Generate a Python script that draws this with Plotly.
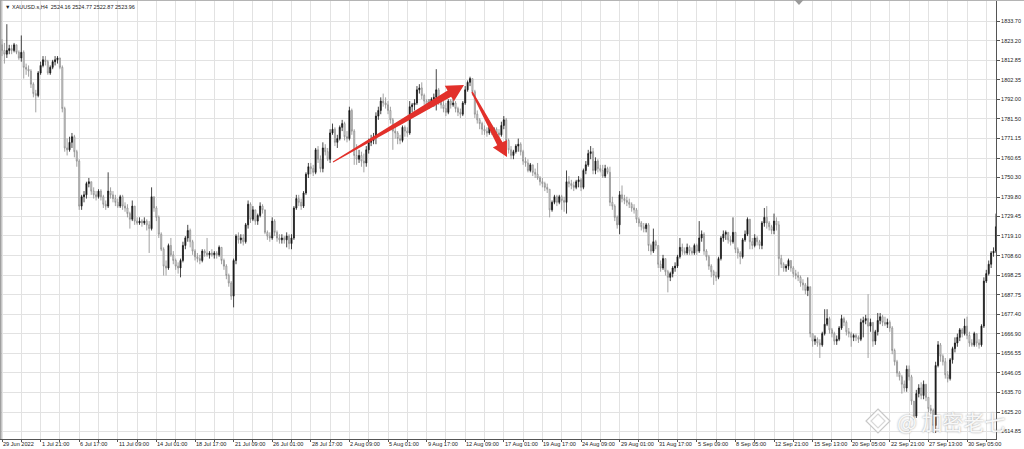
import plotly.graph_objects as go

# ---------------- data (XAUUSD H4) ----------------
open_ = [
    1821,1818,1816,1818,1819,1818,1821,1817,1814,1817,1809,1808,1807,1800,1795,1794,
    1806,1810,1813,1812,1806,1809,1812,1813,1814,1809,1787,1766,1765,1769,1772,1764,
    1759,1735,1740,1741,1747,1748,1743,1741,1740,1743,1740,1736,1735,1743,1741,1739,
    1737,1735,1740,1735,1734,1731,1728,1735,1727,1726,1727,1726,1727,1725,1723,1740,
    1734,1729,1720,1712,1703,1702,1714,1709,1706,1703,1702,1706,1714,1718,1722,1716,
    1711,1708,1707,1706,1711,1710,1709,1710,1709,1710,1709,1713,1706,1703,1698,1694,
    1687,1706,1719,1717,1718,1716,1725,1736,1728,1733,1727,1730,1735,1733,1721,1719,
    1718,1727,1721,1718,1717,1718,1717,1719,1715,1718,1734,1739,1737,1735,1742,1752,
    1756,1755,1753,1765,1760,1755,1766,1764,1760,1774,1776,1769,1771,1777,1779,1772,
    1771,1786,1775,1762,1760,1762,1759,1758,1765,1769,1770,1772,1783,1786,1791,1790,
    1789,1786,1781,1775,1774,1771,1770,1777,1775,1774,1788,1789,1790,1797,1798,1794,
    1791,1789,1790,1792,1793,1797,1792,1789,1787,1785,1791,1789,1790,1787,1785,1784,
    1790,1797,1801,1803,1796,1784,1781,1779,1776,1775,1774,1777,1775,1776,1774,1773,
    1778,1781,1770,1765,1762,1764,1767,1768,1764,1759,1758,1754,1757,1753,1752,1750,
    1748,1747,1745,1744,1733,1737,1740,1737,1740,1738,1737,1748,1747,1746,1745,1748,
    1749,1745,1754,1757,1763,1764,1754,1759,1755,1754,1751,1755,1753,1737,1735,1729,
    1725,1741,1739,1738,1737,1736,1734,1733,1728,1726,1724,1723,1725,1714,1711,1716,
    1714,1704,1702,1707,1700,1697,1699,1702,1703,1708,1713,1711,1710,1713,1711,1710,
    1714,1711,1718,1720,1711,1708,1703,1700,1698,1697,1707,1718,1720,1721,1717,1716,
    1721,1712,1710,1708,1717,1720,1728,1716,1714,1718,1716,1714,1726,1729,1726,1724,
    1722,1727,1725,1707,1704,1702,1703,1706,1702,1699,1698,1697,1694,1693,1690,1692,
    1667,1663,1664,1662,1661,1667,1672,1675,1669,1667,1663,1664,1670,1675,1673,1668,
    1667,1665,1666,1665,1664,1673,1674,1675,1671,1673,1663,1668,1674,1676,1673,1672,
    1673,1670,1658,1652,1646,1644,1640,1638,1648,1644,1631,1623,1635,1638,1634,1640,
    1633,1627,1626,1618,1650,1661,1655,1652,1645,1643,1653,1659,1662,1665,1669,1667,
    1671,1666,1662,1661,1667,1662,1661,1671,1695,1699,1704,1710,1711,
]
high = [
    1824,1822,1832,1821,1821,1822,1821,1818,1826,1818,1811,1810,1808,1801,1797,1807,
    1812,1815,1815,1813,1810,1813,1815,1815,1814,1810,1788,1771,1772,1774,1773,1765,
    1760,1741,1743,1748,1750,1748,1745,1743,1744,1744,1741,1738,1753,1745,1743,1741,
    1739,1741,1741,1737,1736,1732,1738,1735,1729,1729,1728,1729,1728,1727,1745,1740,
    1735,1730,1721,1713,1706,1715,1718,1711,1707,1705,1707,1716,1719,1725,1723,1717,
    1712,1710,1709,1712,1712,1718,1711,1712,1711,1711,1714,1713,1707,1704,1699,1695,
    1707,1720,1721,1720,1720,1726,1738,1737,1735,1733,1731,1737,1736,1733,1722,1721,
    1729,1728,1722,1720,1720,1719,1721,1720,1720,1735,1741,1741,1739,1743,1753,1758,
    1758,1757,1766,1767,1762,1769,1768,1766,1776,1779,1777,1773,1778,1781,1780,1775,
    1788,1787,1776,1768,1765,1764,1763,1767,1771,1773,1774,1785,1788,1793,1795,1793,
    1791,1788,1782,1779,1775,1773,1778,1778,1777,1791,1790,1792,1799,1800,1801,1795,
    1792,1792,1793,1795,1808,1798,1794,1791,1790,1792,1792,1792,1791,1788,1787,1791,
    1799,1802,1804,1803,1797,1786,1782,1780,1778,1777,1778,1778,1777,1777,1776,1780,
    1783,1782,1771,1767,1765,1768,1771,1769,1765,1761,1760,1758,1757,1755,1758,1751,
    1750,1748,1747,1744,1738,1741,1741,1741,1741,1740,1754,1751,1749,1748,1749,1751,
    1750,1755,1759,1765,1767,1766,1761,1760,1757,1757,1757,1756,1756,1740,1736,1730,
    1743,1746,1741,1740,1739,1737,1736,1734,1729,1727,1726,1726,1726,1715,1723,1717,
    1714,1706,1709,1707,1701,1700,1703,1705,1709,1718,1715,1713,1715,1714,1713,1715,
    1715,1727,1722,1721,1712,1709,1704,1701,1700,1708,1719,1722,1722,1721,1719,1729,
    1721,1713,1711,1718,1722,1729,1728,1718,1720,1719,1717,1727,1734,1735,1727,1725,
    1731,1729,1727,1709,1705,1704,1707,1706,1703,1701,1700,1698,1696,1694,1697,1692,
    1667,1666,1665,1664,1668,1680,1680,1676,1670,1668,1666,1671,1677,1676,1674,1670,
    1668,1667,1667,1666,1675,1676,1677,1688,1675,1673,1669,1678,1678,1677,1676,1675,
    1674,1671,1659,1653,1647,1645,1642,1650,1650,1645,1631,1637,1640,1641,1642,1640,
    1633,1629,1627,1652,1663,1662,1656,1654,1647,1654,1660,1665,1667,1670,1670,1675,
    1676,1668,1664,1668,1667,1664,1672,1697,1701,1706,1711,1713,1731,
]
low = [
    1815,1811,1814,1816,1816,1817,1816,1813,1812,1803,1805,1804,1798,1793,1785,1793,
    1805,1809,1810,1805,1805,1808,1810,1811,1808,1785,1764,1762,1764,1766,1761,1756,
    1733,1733,1737,1739,1745,1741,1739,1738,1739,1738,1734,1733,1734,1739,1737,1735,
    1734,1734,1733,1732,1729,1723,1727,1725,1725,1725,1724,1725,1722,1710,1722,1732,
    1727,1718,1711,1698,1698,1701,1708,1704,1701,1699,1697,1705,1712,1716,1713,1709,
    1706,1705,1704,1705,1708,1708,1707,1708,1707,1707,1708,1704,1701,1696,1692,1685,
    1681,1704,1715,1715,1714,1715,1723,1726,1727,1725,1725,1729,1731,1720,1717,1716,
    1717,1719,1716,1715,1715,1715,1713,1712,1712,1717,1733,1735,1733,1734,1741,1750,
    1752,1751,1752,1758,1753,1753,1762,1759,1758,1773,1767,1766,1770,1775,1770,1769,
    1770,1773,1757,1757,1758,1756,1753,1756,1763,1767,1768,1768,1781,1784,1788,1787,
    1784,1779,1765,1771,1768,1768,1769,1772,1772,1773,1785,1786,1789,1795,1792,1789,
    1787,1787,1788,1788,1786,1789,1787,1785,1783,1784,1787,1788,1785,1783,1782,1783,
    1789,1796,1799,1794,1782,1779,1776,1773,1773,1772,1773,1773,1773,1772,1771,1772,
    1776,1768,1763,1760,1760,1763,1764,1762,1757,1756,1753,1753,1751,1750,1749,1746,
    1745,1743,1742,1729,1732,1736,1735,1736,1733,1732,1731,1745,1744,1743,1744,1745,
    1743,1744,1752,1756,1760,1752,1752,1753,1753,1750,1750,1752,1735,1733,1727,1723,
    1720,1737,1736,1735,1734,1732,1731,1726,1724,1722,1721,1721,1711,1709,1710,1712,
    1702,1700,1701,1698,1689,1695,1697,1700,1702,1707,1709,1709,1709,1709,1709,1709,
    1709,1710,1716,1709,1706,1701,1697,1693,1695,1696,1706,1716,1717,1715,1714,1715,
    1710,1707,1704,1707,1716,1719,1712,1712,1713,1714,1712,1712,1724,1723,1722,1720,
    1720,1722,1698,1702,1700,1700,1701,1700,1697,1696,1695,1692,1690,1688,1687,1665,
    1660,1661,1660,1654,1660,1666,1671,1667,1665,1661,1661,1663,1669,1671,1666,1665,
    1660,1663,1663,1662,1663,1665,1672,1654,1668,1660,1661,1666,1672,1671,1671,1670,
    1668,1656,1650,1644,1642,1635,1636,1636,1642,1629,1621,1622,1633,1632,1632,1631,
    1625,1624,1614,1614,1649,1652,1650,1643,1641,1642,1651,1657,1660,1663,1665,1666,
    1664,1660,1660,1660,1660,1659,1660,1670,1694,1698,1702,1708,1710,
]
close = [
    1818,1816,1818,1819,1818,1821,1817,1814,1817,1809,1808,1807,1800,1795,1794,1806,
    1810,1813,1812,1806,1809,1812,1813,1814,1809,1787,1766,1765,1769,1772,1764,1759,
    1735,1740,1741,1747,1748,1743,1741,1740,1743,1740,1736,1735,1743,1741,1739,1737,
    1735,1740,1735,1734,1731,1728,1735,1727,1726,1727,1726,1727,1725,1723,1740,1734,
    1729,1720,1712,1703,1702,1714,1709,1706,1703,1702,1706,1714,1718,1722,1716,1711,
    1708,1707,1706,1711,1710,1709,1710,1709,1710,1709,1713,1706,1703,1698,1694,1687,
    1706,1719,1717,1718,1716,1725,1736,1728,1733,1727,1730,1735,1733,1721,1719,1718,
    1727,1721,1718,1717,1718,1717,1719,1715,1718,1734,1739,1737,1735,1742,1752,1756,
    1755,1753,1765,1760,1755,1766,1764,1760,1774,1776,1769,1771,1777,1779,1772,1771,
    1786,1775,1762,1760,1762,1759,1758,1765,1769,1770,1772,1783,1786,1791,1790,1789,
    1786,1781,1775,1774,1771,1770,1777,1775,1774,1788,1789,1790,1797,1798,1794,1791,
    1789,1790,1792,1793,1797,1792,1789,1787,1785,1791,1789,1790,1787,1785,1784,1790,
    1797,1801,1803,1796,1784,1781,1779,1776,1775,1774,1777,1775,1776,1774,1773,1778,
    1781,1770,1765,1762,1764,1767,1768,1764,1759,1758,1754,1757,1753,1752,1750,1748,
    1747,1745,1744,1733,1737,1740,1737,1740,1738,1737,1748,1747,1746,1745,1748,1749,
    1745,1754,1757,1763,1764,1754,1759,1755,1754,1751,1755,1753,1737,1735,1729,1725,
    1741,1739,1738,1737,1736,1734,1733,1728,1726,1724,1723,1725,1714,1711,1716,1714,
    1704,1702,1707,1700,1697,1699,1702,1703,1708,1713,1711,1710,1713,1711,1710,1714,
    1711,1718,1720,1711,1708,1703,1700,1698,1697,1707,1718,1720,1721,1717,1716,1721,
    1712,1710,1708,1717,1720,1728,1716,1714,1718,1716,1714,1726,1729,1726,1724,1722,
    1727,1725,1707,1704,1702,1703,1706,1702,1699,1698,1697,1694,1693,1690,1692,1667,
    1663,1664,1662,1661,1667,1672,1675,1669,1667,1663,1664,1670,1675,1673,1668,1667,
    1665,1666,1665,1664,1673,1674,1675,1671,1673,1663,1668,1674,1676,1673,1672,1673,
    1670,1658,1652,1646,1644,1640,1638,1648,1644,1631,1623,1635,1638,1634,1640,1633,
    1627,1626,1618,1650,1661,1655,1652,1645,1643,1653,1659,1662,1665,1669,1667,1671,
    1666,1662,1661,1667,1662,1661,1671,1695,1699,1704,1710,1711,1724,
]

time_labels = [
    "29 Jun 2022", "1 Jul 21:00", "6 Jul 17:00", "11 Jul 09:00", "14 Jul 01:00",
    "18 Jul 17:00", "21 Jul 09:00", "26 Jul 01:00", "28 Jul 17:00", "2 Aug 09:00",
    "5 Aug 01:00", "9 Aug 17:00", "12 Aug 09:00", "17 Aug 01:00", "19 Aug 17:00",
    "24 Aug 09:00", "29 Aug 01:00", "31 Aug 17:00", "5 Sep 09:00", "8 Sep 05:00",
    "12 Sep 21:00", "15 Sep 13:00", "20 Sep 05:00", "22 Sep 21:00", "27 Sep 13:00",
    "30 Sep 05:00",
]
price_labels = [
    1833.70, 1823.20, 1812.85, 1802.35, 1792.00, 1781.50, 1771.15, 1760.65,
    1750.30, 1739.80, 1729.45, 1719.10, 1708.60, 1698.25, 1687.75, 1677.40,
    1666.90, 1656.55, 1646.05, 1635.70, 1625.20, 1614.85,
]
header_text = "\u25BC XAUUSD.s,H4  2524.16 2524.77 2522.87 2523.96"
watermark_text = "@ \u52a0\u5bc6\u8001\u4e03"

# ---------------- layout geometry ----------------
W, H = 1024, 449
ML, MR, MT, MB = 0, 28, 1, 10
PW = W - ML - MR
PH = H - MT - MB
BAR_PX = 2.4125          # pixels per H4 bar
FIRST_BAR_PX = 2.0       # pixel position of the first bar
x_lo = -FIRST_BAR_PX / BAR_PX
x_hi = x_lo + PW / BAR_PX
y_lo, y_hi = 1610.80, 1844.37

bars = list(range(len(close)))
LABEL_EVERY = 16
GRID_EVERY = 8
grid_vals = list(range(0, len(close) + GRID_EVERY, GRID_EVERY))
label_vals = [k * LABEL_EVERY for k in range(len(time_labels))]

FONT = "Liberation Sans, Arial, sans-serif"
GRID = "#e2e2e2"
AXIS = "#555555"


def pp(x, y):
    """pixel -> paper coords"""
    return (x - ML) / PW, (H - MB - y) / PH


def arrow_path(tail, tip, head_len, head_half, shaft_end, shaft_start):
    tx, ty = tail
    hx, hy = tip
    dx, dy = hx - tx, hy - ty
    ln = (dx * dx + dy * dy) ** 0.5
    ux, uy = dx / ln, dy / ln
    nx, ny = -uy, ux
    bx, by = hx - head_len * ux, hy - head_len * uy
    pts = [
        (tx + shaft_start * nx, ty + shaft_start * ny),
        (bx + shaft_end * nx, by + shaft_end * ny),
        (bx + head_half * nx, by + head_half * ny),
        (hx, hy),
        (bx - head_half * nx, by - head_half * ny),
        (bx - shaft_end * nx, by - shaft_end * ny),
        (tx - shaft_start * nx, ty - shaft_start * ny),
    ]
    s = ""
    for i, (x, y) in enumerate(pts):
        px, py = pp(x, y)
        s += ("M" if i == 0 else "L") + f"{px:.5f},{py:.5f} "
    return s + "Z"


fig = go.Figure()
fig.add_trace(go.Candlestick(
    x=bars, open=open_, high=high, low=low, close=close,
    increasing=dict(line=dict(color="#161616", width=0.8), fillcolor="#161616"),
    decreasing=dict(line=dict(color="#8a8a8a", width=0.8), fillcolor="#ffffff"),
    whiskerwidth=0, hoverinfo="skip", showlegend=False,
))

shapes = []
RED = "#e2302a"
shapes.append(dict(type="path", xref="paper", yref="paper",
                   path=arrow_path((333, 162), (464, 85), 17, 9, 3.5, 0.5),
                   fillcolor=RED, line=dict(width=0), layer="above"))
shapes.append(dict(type="path", xref="paper", yref="paper",
                   path=arrow_path((472, 92), (507, 157), 15, 8, 3, 0.8),
                   fillcolor=RED, line=dict(width=0), layer="above"))
# window borders
shapes.append(dict(type="line", xref="paper", yref="paper", x0=pp(0, 0)[0], x1=pp(W, 0)[0],
                   y0=pp(0, 0.5)[1], y1=pp(0, 0.5)[1],
                   line=dict(color="#b4b4b4", width=1)))
shapes.append(dict(type="line", xref="paper", yref="paper",
                   x0=pp(0.8, 0)[0], x1=pp(0.8, 0)[0], y0=pp(0, 0)[1], y1=pp(0, H - MB)[1],
                   line=dict(color="#a0a0a0", width=1.6)))
# chart shift marker
a = pp(794.5, 0)
b = pp(803.5, 0)
c = pp(799, 5)
shapes.append(dict(type="path", xref="paper", yref="paper",
                   path=f"M{a[0]},{a[1]} L{b[0]},{b[1]} L{c[0]},{c[1]} Z",
                   fillcolor="#9a9a9a", line=dict(width=0)))
# watermark logo (diamond)
for r, col in ((12, "#c8c8c8"), (7, "#d8d8d8")):
    cx, cy = 878, 421
    p1, p2, p3, p4 = pp(cx, cy - r), pp(cx + r, cy), pp(cx, cy + r), pp(cx - r, cy)
    shapes.append(dict(type="path", xref="paper", yref="paper",
                       path=f"M{p1[0]},{p1[1]} L{p2[0]},{p2[1]} L{p3[0]},{p3[1]} L{p4[0]},{p4[1]} Z",
                       fillcolor="rgba(255,255,255,0.85)", line=dict(color=col, width=1.2)))

annotations = [
    dict(text=header_text, xref="paper", yref="paper", x=pp(3, 0)[0], y=pp(0, 7)[1],
         xanchor="left", yanchor="middle", showarrow=False,
         font=dict(family=FONT, size=5.5, color="#222222")),
    dict(text=watermark_text, xref="paper", yref="paper", x=pp(895, 0)[0], y=pp(0, 421)[1],
         xanchor="left", yanchor="middle", showarrow=False,
         font=dict(family="Noto Sans CJK SC", size=21, color="rgba(255,255,255,0.92)",
                   shadow="0px 0px 2px #8c8c8c")),
]
# time-scale labels, placed on the x axis scale, left-aligned at their bar like MT4
for v, t in zip(label_vals, time_labels):
    annotations.append(dict(text=t, xref="x", yref="paper", x=v, y=pp(0, 444)[1],
                            xanchor="left", yanchor="middle", xshift=-1, showarrow=False,
                            font=dict(family=FONT, size=5.6, color="#222222")))

fig.update_layout(
    width=W, height=H,
    margin=dict(l=ML, r=MR, t=MT, b=MB, pad=0),
    paper_bgcolor="white", plot_bgcolor="white",
    boxgap=0.4,
    shapes=shapes, annotations=annotations,
    xaxis=dict(
        range=[x_lo, x_hi], rangeslider=dict(visible=False),
        tickmode="array", tickvals=grid_vals, showticklabels=False,
        ticks="outside", ticklen=2, tickcolor=AXIS, tickwidth=1,
        showline=True, linecolor=AXIS, linewidth=1,
        showgrid=True, gridcolor=GRID, gridwidth=1, zeroline=False,
        automargin=False, fixedrange=True,
    ),
    yaxis=dict(
        range=[y_lo, y_hi], side="right",
        tickmode="array", tickvals=price_labels,
        ticktext=[f"{v:.2f}" for v in price_labels],
        ticks="outside", ticklen=3, tickcolor=AXIS, tickwidth=1,
        showline=True, linecolor=AXIS, linewidth=1,
        showgrid=True, gridcolor=GRID, gridwidth=1, zeroline=False,
        tickfont=dict(family=FONT, size=5.5, color="#222222"),
        automargin=False, fixedrange=True,
    ),
)

fig.write_html(
    "out.html",
    config={"displayModeBar": False},
    post_script="document.body.style.margin='0';document.body.style.overflow='hidden';",
)
